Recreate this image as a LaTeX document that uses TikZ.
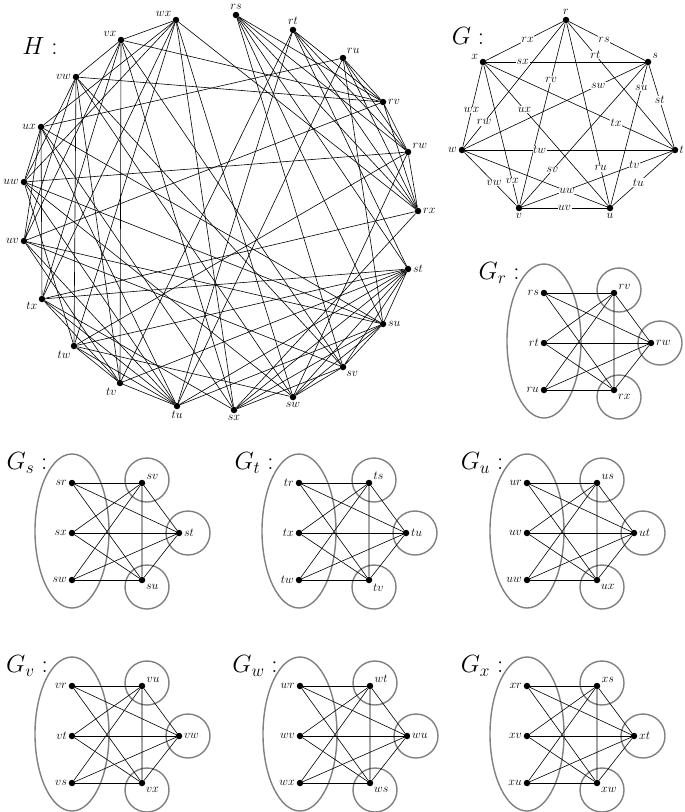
\documentclass[tikz,border=0pt]{standalone}
\begin{document}
\begin{tikzpicture}[x=1pt,y=-1pt,
  dot/.style={circle,fill=black,inner sep=0pt,minimum size=6.5pt},
  lab/.style={font=\large,inner sep=1.5pt},
  grp/.style={draw=gray,line width=1.4pt},
  edge/.style={line width=0.6pt},
  elab/.style={fill=white,inner sep=0.6pt,font=\large},
  ttl/.style={font=\fontsize{23}{25}\selectfont}]
\useasboundingbox (0,0) rectangle (685,812);
\newcommand\gpanel[9]{%
\begin{scope}[shift={(#2,#3)}]
\draw[grp] (0,48) ellipse [x radius=37,y radius=77];
\draw[grp] (75,-3) circle [radius=22];
\draw[grp] (116,50) circle [radius=22];
\draw[grp] (75,104) circle [radius=22];
\node[ttl] (T#1) at (-45,-20) {$G_{#1}:$};
\node[dot,label={[lab]left:$#4$}] (#1a) at (0,0) {};
\node[dot,label={[lab]left:$#5$}] (#1b) at (0,50) {};
\node[dot,label={[lab]left:$#6$}] (#1c) at (0,97) {};
\node[dot,label={[lab]30:$#7$}] (#1d) at (70,0) {};
\node[dot,label={[lab]right:$#8$}] (#1e) at (107,50) {};
\node[dot,label={[lab]-45:$#9$}] (#1f) at (70,97) {};
\foreach \p in {a,b,c}{\foreach \q in {d,e,f}{\draw[edge] (#1\p) -- (#1\q);}}
\draw[edge] (#1d) -- (#1e) -- (#1f) -- (#1d);
\end{scope}}
% ---------- H ----------
\node[ttl] (TH) at (40,46) {$H:$};
\foreach \n/\x/\y/\a in {rs/236/15/above, rt/293/30/above, ru/343/58/45, rv/383/102/right,
  rw/408/152/30, rx/418/211/right, st/408/269/right, su/383/324/right, sv/343/367/-60,
  sw/293/397/below, sx/234/410/below, tu/177/406/below, tv/120/383/-120, tw/74/346/-120,
  tx/42/299/-150, uv/24/241/left, uw/24/182/left, ux/41/127/left, vw/76/77/left,
  vx/121/40/150, wx/176/20/150}
  \node[dot,label={[lab]\a:$\n$}] (h\n) at (\x,\y) {};
\foreach \a/\b/\c/\d/\e/\f in {rs/rt/ru/rv/rw/rx, rs/sx/sw/sv/st/su, rt/tx/tw/st/tu/tv,
  ru/uv/uw/su/tu/ux, rv/tv/sv/uv/vw/vx, rw/vw/wx/tw/uw/sw, rx/vx/ux/sx/tx/wx}{
  \foreach \p in {\a,\b,\c}{\foreach \q in {\d,\e,\f}{\draw[edge] (h\p) -- (h\q);}}
  \draw[edge] (h\d) -- (h\e) -- (h\f) -- (h\d);}
% ---------- G ----------
\node[ttl] (TG) at (468,36) {$G:$};
\node[dot,label={[lab]above:$r$}] (r) at (566,20) {};
\node[dot,label={[lab]40:$s$}] (s) at (648,62) {};
\node[dot,label={[lab,inner sep=1pt]right:$t$}] (t) at (675,150) {};
\node[dot,label={[lab]below:$u$}] (u) at (610,208) {};
\node[dot,label={[lab]below:$v$}] (v) at (519,208) {};
\node[dot,label={[lab]left:$w$}] (w) at (462,150) {};
\node[dot,label={[lab]160:$x$}] (x) at (483,62) {};
\foreach \a/\b/\p/\l in {r/x/.46/rx, r/s/.46/rs, r/t/.26/rt, r/v/.31/rv, r/u/.8/ru, r/w/.8/rw,
  x/s/.23/sx, s/w/.26/sw, s/u/.16/su, s/t/.43/st, s/v/.75/sv, x/w/.55/wx, x/u/.32/ux,
  x/t/.7/tx, x/v/.83/vx, w/t/.36/tw, t/v/.25/tv, t/u/.57/tu, w/v/.57/vw, w/u/.72/uw, u/v/.5/uv}
  \draw[edge] (\a) -- node[elab,pos=\p] {$\l$} (\b);
% ---------- panels ----------
\gpanel{r}{544}{293}{rs}{rt}{ru}{rv}{rw}{rx}
\gpanel{s}{72}{483}{sr}{sx}{sw}{sv}{st}{su}
\gpanel{t}{299}{483}{tr}{tx}{tw}{ts}{tu}{tv}
\gpanel{u}{527}{483}{ur}{uv}{uw}{us}{ut}{ux}
\gpanel{v}{72}{686}{vr}{vt}{vs}{vu}{vw}{vx}
\gpanel{w}{300}{686}{wr}{wv}{wx}{wt}{wu}{ws}
\gpanel{x}{527}{686}{xr}{xv}{xu}{xs}{xt}{xw}
\end{tikzpicture}
\end{document}
